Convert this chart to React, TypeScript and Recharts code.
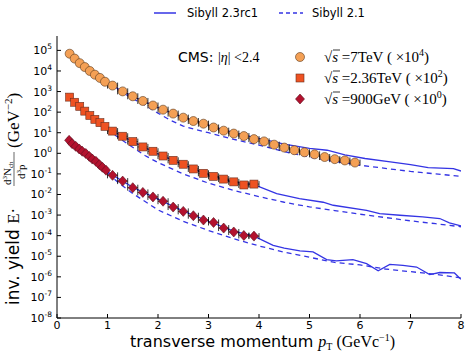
import { ComposedChart, Line, Scatter, XAxis, YAxis, ErrorBar } from 'recharts';

// CMS charged hadron spectra (scaled) with Sibyll 2.3rc1 / 2.1 predictions

const PT_7TEV = [0.25, 0.35, 0.45, 0.55, 0.65, 0.75, 0.85, 0.95, 1.1, 1.3, 1.5, 1.7, 1.9, 2.1, 2.3, 2.5, 2.7, 2.9, 3.1, 3.3, 3.5, 3.7, 3.9, 4.1, 4.3, 4.5, 4.7, 4.9, 5.1, 5.3, 5.5, 5.7, 5.9];
const YIELD_7TEV = [6.9e4, 4.0e4, 2.4e4, 1.55e4, 1.0e4, 6.6e3, 4.6e3, 3.0e3, 1.95e3, 1.02e3, 590, 350, 210, 132, 85, 54, 37, 27.5, 18, 12.6, 9.1, 6.9, 4.9, 3.8, 2.63, 1.9, 1.41, 1.12, 0.89, 0.66, 0.52, 0.45, 0.355];

const PT_236TEV = [0.25, 0.35, 0.45, 0.55, 0.65, 0.75, 0.85, 0.95, 1.1, 1.3, 1.5, 1.7, 1.9, 2.1, 2.3, 2.5, 2.7, 2.9, 3.1, 3.3, 3.5, 3.7, 3.9];
const YIELD_236TEV = [537, 302, 191, 112, 69, 44.7, 30.9, 20.4, 12.0, 6.76, 3.72, 2.04, 1.26, 0.74, 0.457, 0.295, 0.174, 0.107, 0.076, 0.056, 0.041, 0.029, 0.032];

const PT_900GEV = [0.24, 0.3, 0.37, 0.44, 0.5, 0.57, 0.64, 0.7, 0.77, 0.84, 0.9, 0.97, 1.1, 1.3, 1.5, 1.7, 1.9, 2.1, 2.3, 2.5, 2.7, 2.9, 3.1, 3.3, 3.5, 3.7, 3.9];
const YIELD_900GEV = [4.27, 2.95, 2.19, 1.62, 1.26, 0.977, 0.708, 0.525, 0.407, 0.282, 0.209, 0.151, 0.085, 0.0447, 0.0214, 0.0126, 0.0076, 0.0047, 0.00245, 0.00151, 9.3e-4, 5.75e-4, 4.37e-4, 2.34e-4, 1.51e-4, 1.02e-4, 9.5e-5];

// Sibyll 2.3rc1 (solid)
const S23_7_X = [0.2, 0.4, 0.6, 0.8, 1.0, 1.25, 1.5, 2.0, 2.5, 3.0, 3.5, 4.0, 4.5, 5.0, 5.35, 5.7, 6.1, 6.6, 7.0, 7.35, 7.85, 8.0];
const S23_7_Y = [8.9e4, 3.16e4, 1.26e4, 5.5e3, 2.63e3, 1.2e3, 589, 166, 56, 23.4, 10, 5.25, 2.82, 1.74, 1.41, 0.85, 0.56, 0.38, 0.28, 0.204, 0.182, 0.138];
const S23_236_X = [0.2, 0.5, 0.8, 1.0, 1.25, 1.5, 2.0, 2.5, 3.0, 3.5, 3.9, 4.35, 4.8, 5.27, 5.47, 6.13, 6.39, 6.79, 7.24, 7.58, 7.77, 8.0];
const S23_236_Y = [759, 132, 33, 15.8, 7.9, 3.7, 0.93, 0.28, 0.089, 0.04, 0.03, 0.011, 6.3e-3, 4.2e-3, 3.0e-3, 1.7e-3, 1.17e-3, 9.8e-4, 8.1e-4, 6.8e-4, 4.2e-4, 2.95e-4];
const S23_900_X = [0.2, 0.5, 0.8, 1.0, 1.25, 1.5, 2.0, 2.5, 3.0, 3.5, 3.9, 4.28, 4.5, 4.81, 5.07, 5.34, 5.53, 5.86, 6.13, 6.36, 6.59, 6.85, 7.12, 7.38, 7.58, 7.87, 8.0];
const S23_900_Y = [5.6, 1.26, 0.339, 0.126, 0.0525, 0.0224, 6.0e-3, 1.58e-3, 5.0e-4, 1.66e-4, 9.5e-5, 3.4e-5, 2.5e-5, 1.82e-5, 1.62e-5, 6.9e-6, 5.9e-6, 6.9e-6, 4.4e-6, 1.95e-6, 4.0e-6, 3.6e-6, 3.0e-6, 1.29e-6, 1.62e-6, 1.55e-6, 7.6e-7];

// Sibyll 2.1 (dashed)
const S21_7_X = [0.2, 0.5, 1.0, 1.5, 1.7, 2.0, 2.25, 2.5, 2.75, 3.0, 3.5, 4.0, 4.5, 5.0, 5.5, 6.0, 6.5, 7.0, 7.5, 8.0];
const S21_7_Y = [8.9e4, 1.9e4, 2.4e3, 457, 251, 89, 40, 20.9, 14.1, 10, 4.8, 2.5, 1.2, 0.66, 0.4, 0.263, 0.186, 0.132, 0.1, 0.076];
const S21_236_X = [0.2, 0.5, 1.0, 1.3, 1.75, 2.0, 2.5, 3.0, 3.5, 4.0, 4.5, 5.0, 5.5, 6.0, 6.5, 7.0, 7.5, 8.0];
const S21_236_Y = [759, 132, 14.1, 4.17, 0.76, 0.355, 0.1, 0.0355, 0.0158, 7.9e-3, 4.2e-3, 2.5e-3, 1.66e-3, 1.1e-3, 7.6e-4, 5.25e-4, 3.8e-4, 2.7e-4];
const S21_900_X = [0.2, 0.5, 0.8, 1.0, 1.2, 1.5, 2.0, 2.5, 3.0, 3.5, 4.0, 4.5, 5.0, 5.5, 6.0, 6.5, 7.0, 7.5, 8.0];
const S21_900_Y = [5.6, 1.2, 0.316, 0.112, 0.04, 0.0112, 1.78e-3, 5.0e-4, 1.78e-4, 7.1e-5, 3.16e-5, 1.58e-5, 8.9e-6, 5.0e-6, 3.8e-6, 2.4e-6, 1.78e-6, 1.32e-6, 8.9e-7];

const X_TICKS = [0, 1, 2, 3, 4, 5, 6, 7, 8];
const Y_TICKS = [1e-8, 1e-7, 1e-6, 1e-5, 1e-4, 1e-3, 1e-2, 1e-1, 1e0, 1e1, 1e2, 1e3, 1e4, 1e5];

const BLUE = '#3434e4';
const SANS = '"DejaVu Sans", sans-serif';
const SERIF = '"Liberation Serif", serif';

const toPoints = (xs: number[], ys: number[], lowBin: number) =>
  xs.map((x, i) => ({ x, y: ys[i], ex: x < 1 ? lowBin : 0.1 }));
const toLine = (xs: number[], ys: number[]) => xs.map((x, i) => ({ x, y: ys[i] }));

const data7 = toPoints(PT_7TEV, YIELD_7TEV, 0.05);
const data236 = toPoints(PT_236TEV, YIELD_236TEV, 0.05);
const data900 = toPoints(PT_900GEV, YIELD_900GEV, 0.033);

const CircleMark = (p: any) => <circle cx={p.cx} cy={p.cy} r={4.5} fill="#f4a055" stroke="#5a3a20" strokeWidth={0.6} />;
const SquareMark = (p: any) => <rect x={p.cx - 4} y={p.cy - 4} width={8} height={8} fill="#ee5222" stroke="#6a3020" strokeWidth={0.6} />;
const DiamondMark = (p: any) => (
  <polygon points={`${p.cx},${p.cy - 5} ${p.cx + 4.5},${p.cy} ${p.cx},${p.cy + 5} ${p.cx - 4.5},${p.cy}`} fill="#b3122e" stroke="#5a1020" strokeWidth={0.6} />
);

const YTick = (props: any) => {
  const { x, y, payload } = props;
  const e = Math.round(Math.log10(payload.value));
  return (
    <g>
      <line x1={x} x2={x + 4} y1={y} y2={y} stroke="#000" />
      <text x={x - 5} y={y + 4} textAnchor="end" fontSize={11} fontFamily={SANS} fill="#000">
        10<tspan dy={-5} fontSize={7.5}>{e}</tspan>
      </text>
    </g>
  );
};

const XTick = (props: any) => {
  const { x, y, payload } = props;
  return (
    <g>
      <line x1={x} x2={x} y1={y} y2={y - 4} stroke="#000" />
      <text x={x} y={y + 11} textAnchor="middle" fontSize={11} fontFamily={SANS} fill="#000">{payload.value}</text>
    </g>
  );
};

function Overlay() {
  const rows = [
    { y: 57, label: '7TeV', exp: '4' },
    { y: 78, label: '2.36TeV', exp: '2' },
    { y: 99, label: '900GeV', exp: '0' },
  ];
  return (
    <svg width={474} height={355} style={{ position: 'absolute', left: 0, top: 0, pointerEvents: 'none' }}>
      {/* model legend */}
      <line x1={154} x2={176} y1={13} y2={13} stroke={BLUE} strokeWidth={1.5} />
      <text x={187} y={17} fontSize={11.5} fontFamily={SANS}>Sibyll 2.3rc1</text>
      <line x1={279} x2={303} y1={13} y2={13} stroke={BLUE} strokeWidth={1.5} strokeDasharray="4 3" />
      <text x={312} y={17} fontSize={11.5} fontFamily={SANS}>Sibyll 2.1</text>

      <text x={178} y={62} fontSize={14} fontFamily={SANS}>
        CMS: <tspan fontFamily={SERIF}>|</tspan><tspan fontFamily={SERIF} fontStyle="italic">η</tspan><tspan fontFamily={SERIF}>| &lt;2.4</tspan>
      </text>

      {/* data legend */}
      <CircleMark cx={300} cy={rows[0].y} />
      <SquareMark cx={300} cy={rows[1].y} />
      <DiamondMark cx={300} cy={rows[2].y} />
      {rows.map((r) => (
        <g key={r.label}>
          <line x1={333} x2={340} y1={r.y - 7} y2={r.y - 7} stroke="#000" strokeWidth={0.8} />
          <text x={324} y={r.y + 5} fontSize={15} fontFamily={SERIF}>
            √<tspan fontStyle="italic">s</tspan> ={r.label} ( ×10<tspan dy={-6} fontSize={10}>{r.exp}</tspan><tspan dy={6}>)</tspan>
          </text>
        </g>
      ))}

      {/* y label */}
      <g transform="translate(19,305) rotate(-90)">
        <text x={0} y={0} fontSize={17} fontFamily={SANS}>inv. yield <tspan fontFamily={SERIF}>E</tspan><tspan fontFamily={SERIF}>·</tspan></text>
        <text x={120} y={-8} fontSize={11} fontFamily={SERIF}>
          d<tspan dy={-4} fontSize={7}>3</tspan><tspan dy={4}>N</tspan><tspan dy={2} fontSize={7}>ch</tspan>
        </text>
        <line x1={119} x2={153} y1={-5} y2={-5} stroke="#000" strokeWidth={0.6} />
        <text x={126} y={6} fontSize={11} fontFamily={SERIF}>
          d<tspan dy={-4} fontSize={7}>3</tspan><tspan dy={4}>p⃗</tspan>
        </text>
        <text x={157} y={0} fontSize={17} fontFamily={SERIF}>
          (GeV<tspan dy={-7} fontSize={11}>−2</tspan><tspan dy={7}>)</tspan>
        </text>
      </g>

      {/* x label */}
      <text x={130} y={347} fontSize={16} fontFamily={SANS}>
        transverse momentum <tspan fontFamily={SERIF} fontStyle="italic">p</tspan>
        <tspan fontFamily={SERIF} fontSize={10} dy={3}>T</tspan>
        <tspan fontFamily={SERIF} dy={-3}> (GeVc</tspan>
        <tspan fontFamily={SERIF} fontSize={10} dy={-6}>−1</tspan>
        <tspan fontFamily={SERIF} dy={6}>)</tspan>
      </text>
    </svg>
  );
}

export default function App() {
  return (
    <div style={{ position: 'absolute', left: 0, top: 0, width: 474, height: 355, background: '#fff' }}>
      <ComposedChart width={474} height={355} margin={{ top: 36, right: 13, bottom: 0, left: 0 }}>
        <XAxis
          type="number"
          dataKey="x"
          domain={[0, 8]}
          ticks={X_TICKS}
          interval={0}
          allowDataOverflow
          height={37}
          tickLine={false}
          tickSize={0}
          tickMargin={0}
          axisLine={{ stroke: '#000' }}
          tick={<XTick />}
        />
        <YAxis
          type="number"
          dataKey="y"
          scale="log"
          domain={[1e-8, 5e5]}
          ticks={Y_TICKS}
          interval={0}
          allowDataOverflow
          width={57}
          tickLine={false}
          tickSize={0}
          tickMargin={0}
          axisLine={{ stroke: '#000' }}
          tick={<YTick />}
        />
        <Line data={toLine(S21_7_X, S21_7_Y)} dataKey="y" stroke={BLUE} strokeWidth={1.3} strokeDasharray="5 4" dot={false} isAnimationActive={false} />
        <Line data={toLine(S21_236_X, S21_236_Y)} dataKey="y" stroke={BLUE} strokeWidth={1.3} strokeDasharray="5 4" dot={false} isAnimationActive={false} />
        <Line data={toLine(S21_900_X, S21_900_Y)} dataKey="y" stroke={BLUE} strokeWidth={1.3} strokeDasharray="5 4" dot={false} isAnimationActive={false} />
        <Line data={toLine(S23_7_X, S23_7_Y)} dataKey="y" stroke={BLUE} strokeWidth={1.3} dot={false} isAnimationActive={false} />
        <Line data={toLine(S23_236_X, S23_236_Y)} dataKey="y" stroke={BLUE} strokeWidth={1.3} dot={false} isAnimationActive={false} />
        <Line data={toLine(S23_900_X, S23_900_Y)} dataKey="y" stroke={BLUE} strokeWidth={1.3} dot={false} isAnimationActive={false} />
        <Scatter data={data7} dataKey="y" shape={CircleMark} isAnimationActive={false}>
          <ErrorBar dataKey="ex" direction="x" width={3} stroke="#000" strokeWidth={0.8} />
        </Scatter>
        <Scatter data={data236} dataKey="y" shape={SquareMark} isAnimationActive={false}>
          <ErrorBar dataKey="ex" direction="x" width={3} stroke="#000" strokeWidth={0.8} />
        </Scatter>
        <Scatter data={data900} dataKey="y" shape={DiamondMark} isAnimationActive={false}>
          <ErrorBar dataKey="ex" direction="x" width={3} stroke="#000" strokeWidth={0.8} />
        </Scatter>
      </ComposedChart>
      <Overlay />
    </div>
  );
}
